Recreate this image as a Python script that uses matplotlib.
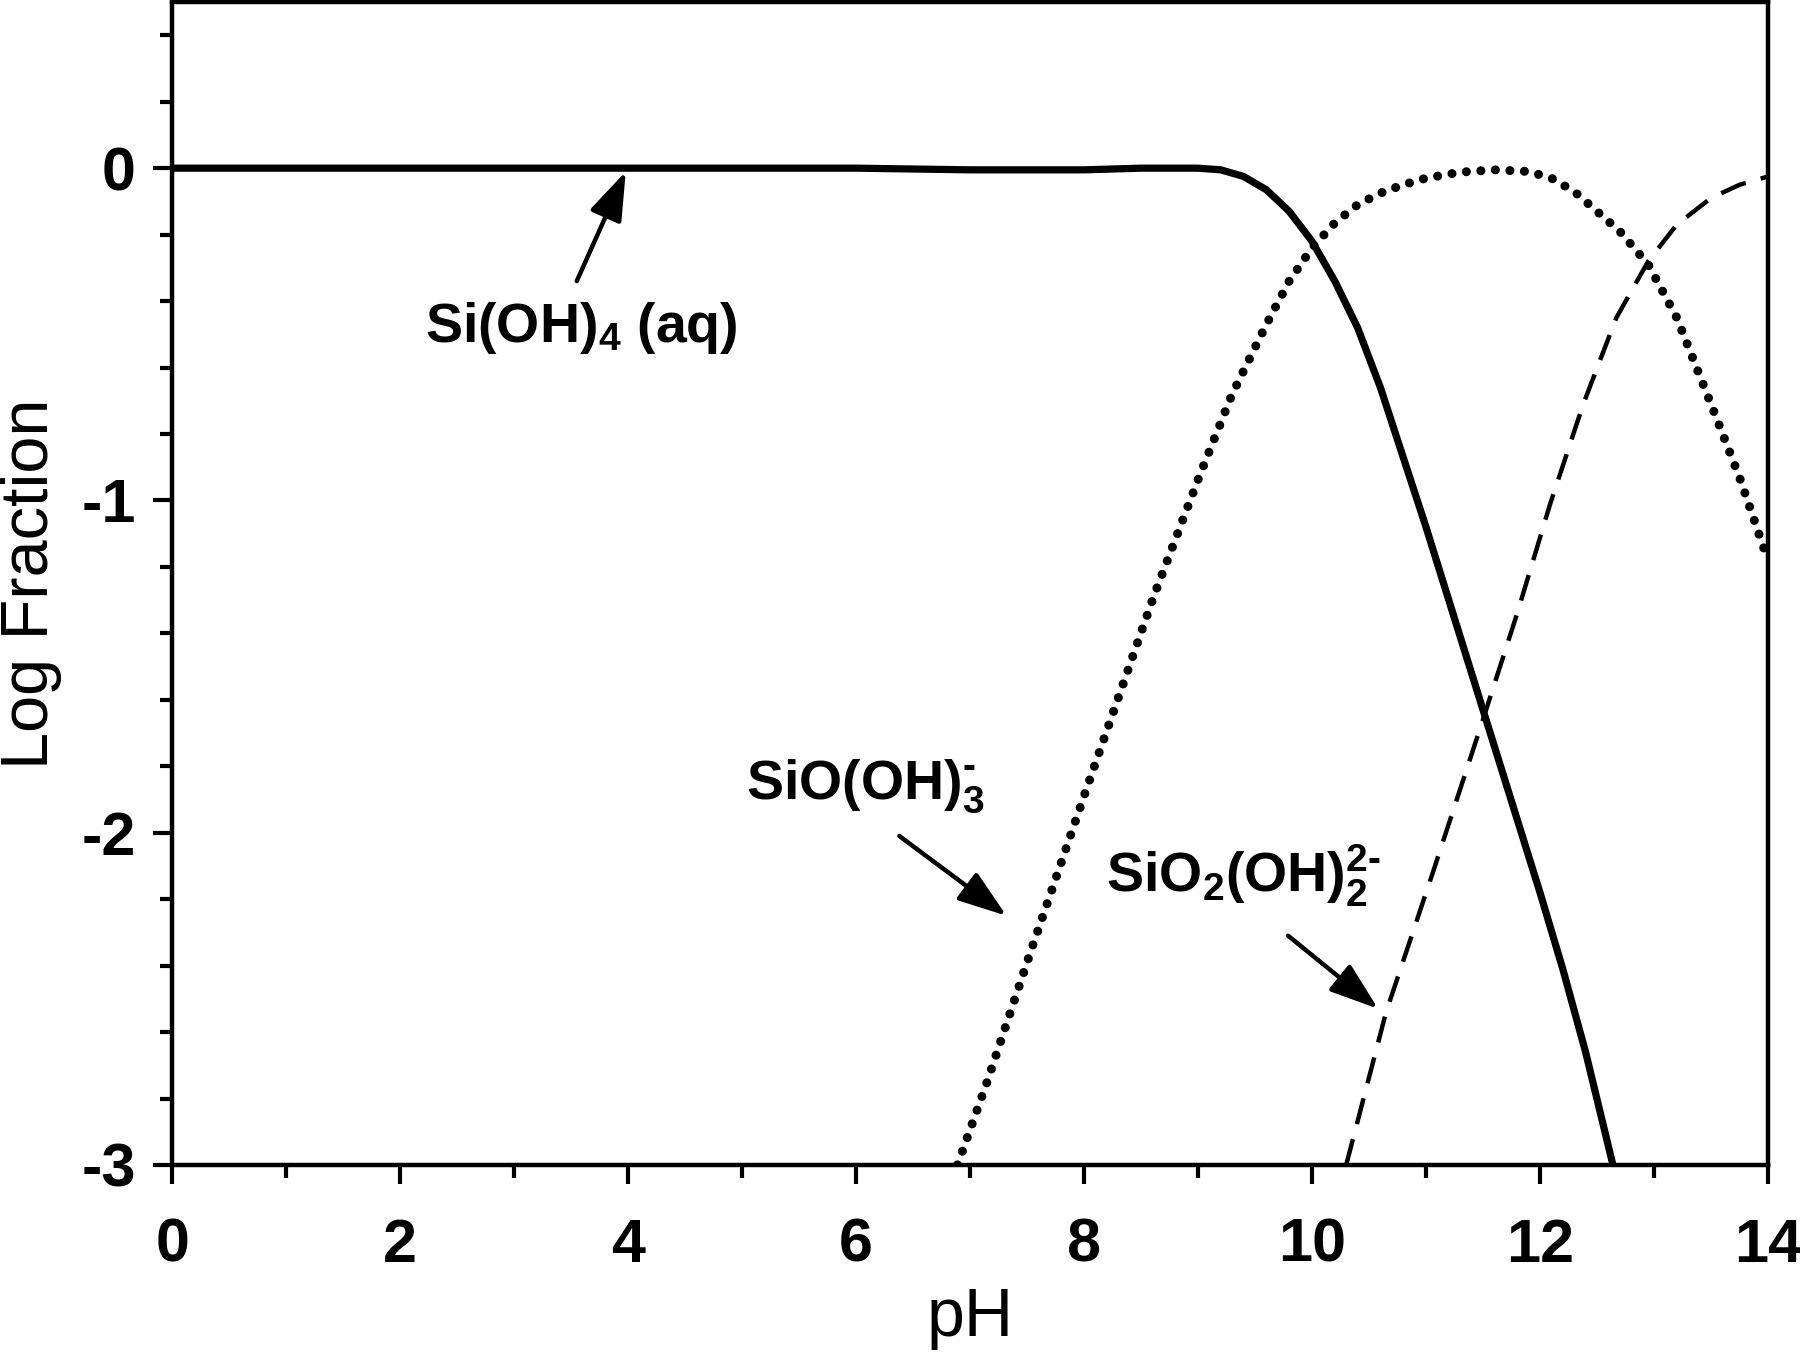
import matplotlib
matplotlib.use("Agg")
import matplotlib.pyplot as plt
from matplotlib.ticker import MultipleLocator

plt.rcParams['font.family'] = ['Liberation Sans', 'DejaVu Sans']
plt.rcParams['mathtext.fontset'] = 'custom'
plt.rcParams['mathtext.rm'] = 'Liberation Sans:bold'
plt.rcParams['mathtext.bf'] = 'Liberation Sans:bold'
plt.rcParams['mathtext.default'] = 'bf'
plt.rcParams['axes.unicode_minus'] = False

# Si(OH)4 (aq) -- solid
ph_h4 = [0, 1, 2, 3, 4, 5, 6, 7, 8, 8.5, 9.0, 9.2, 9.4, 9.6, 9.8, 10.0,
         10.2, 10.4, 10.6, 10.8, 11.0, 11.2, 11.5, 11.8, 12.0, 12.2, 12.4,
         12.64]
lf_h4 = [0, 0, 0, 0, 0, 0, 0, -0.005, -0.005, 0, 0, -0.005, -0.025, -0.065,
         -0.13, -0.22, -0.34, -0.48, -0.66, -0.87, -1.08, -1.30, -1.63,
         -1.96, -2.18, -2.41, -2.66, -3.0]

# SiO(OH)3- -- dotted
ph_h3 = [6.89, 7.15, 7.53, 8.03, 8.61, 9.02, 9.3, 9.6, 9.8, 10.0, 10.2, 10.4,
         10.6, 10.8, 11.0, 11.3, 11.6, 11.9, 12.1, 12.3, 12.5, 12.7, 12.95,
         13.2, 13.5, 13.75, 14.0]
lf_h3 = [-3.0, -2.75, -2.36, -1.86, -1.29, -0.92, -0.68, -0.47, -0.34, -0.24,
         -0.165, -0.11, -0.075, -0.05, -0.03, -0.012, -0.005, -0.01, -0.03,
         -0.07, -0.13, -0.19, -0.29, -0.45, -0.71, -0.93, -1.18]

# SiO2(OH)2 2- -- dashed
ph_h2 = [10.3, 10.65, 11.06, 11.49, 11.8, 12.09, 12.38, 12.67, 12.95, 13.2,
         13.5, 13.75, 14.0]
lf_h2 = [-3.0, -2.54, -2.12, -1.67, -1.34, -1.01, -0.71, -0.45, -0.28, -0.17,
         -0.09, -0.05, -0.025]

x_ticks = [0, 2, 4, 6, 8, 10, 12, 14]
y_ticks = [0, -1, -2, -3]

fig = plt.figure(figsize=(18, 13.63), dpi=100)
ax = fig.add_axes([0.0956, 0.1453, 0.8866, 0.8532])

ax.plot(ph_h4, lf_h4, color='black', lw=5.2, solid_capstyle='butt',
        solid_joinstyle='round')
ax.plot(ph_h3, lf_h3, color='black', lw=6.5, dashes=(0.01, 1.6),
        dash_capstyle='round')
ax.plot(ph_h2, lf_h2, color='black', lw=3.2, dashes=(6, 3.5))

ax.set_xlim(0, 14)
ax.set_ylim(-3, 0.5)

for s in ax.spines.values():
    s.set_linewidth(3.2)

ax.xaxis.set_minor_locator(MultipleLocator(1))
ax.yaxis.set_minor_locator(MultipleLocator(0.2))
ax.set_xticks(x_ticks)
ax.set_xticklabels([str(t) for t in x_ticks])
ax.set_yticks(y_ticks)
ax.set_yticklabels([str(t) for t in y_ticks])
ax.tick_params(which='both', direction='out', top=False, right=False,
               width=3, labelsize=44)
ax.tick_params(which='major', length=14)
ax.tick_params(which='minor', length=9)
ax.tick_params(axis='x', pad=24)
ax.tick_params(axis='y', pad=12)
for lab in ax.get_xticklabels() + ax.get_yticklabels():
    lab.set_fontweight('bold')

ax.set_xlabel('pH', fontsize=49, labelpad=8)
ax.set_ylabel('Log Fraction', fontsize=48, labelpad=14)

arrow = dict(arrowstyle='-|>,head_length=0.75,head_width=0.26', lw=3.2,
             color='black', mutation_scale=40, shrinkA=0, shrinkB=0)

ax.text(3.59, -0.48, r'Si(OH)$_4$ (aq)', fontsize=40, fontweight='bold',
        ha='center', va='center')
ax.annotate('', xy=(3.98, -0.01), xytext=(3.55, -0.34), arrowprops=arrow)

ax.text(6.08, -1.86, r'SiO(OH)$_3^{\text{-}}$', fontsize=40,
        fontweight='bold', ha='center', va='center')
ax.annotate('', xy=(7.32, -2.25), xytext=(6.38, -2.01), arrowprops=arrow)

ax.text(9.4, -2.13, r'SiO$_2$(OH)$_2^{2\text{-}}$', fontsize=40,
        fontweight='bold', ha='center', va='center')
ax.annotate('', xy=(10.58, -2.53), xytext=(9.79, -2.31), arrowprops=arrow)

fig.savefig('out.png', dpi=100)
